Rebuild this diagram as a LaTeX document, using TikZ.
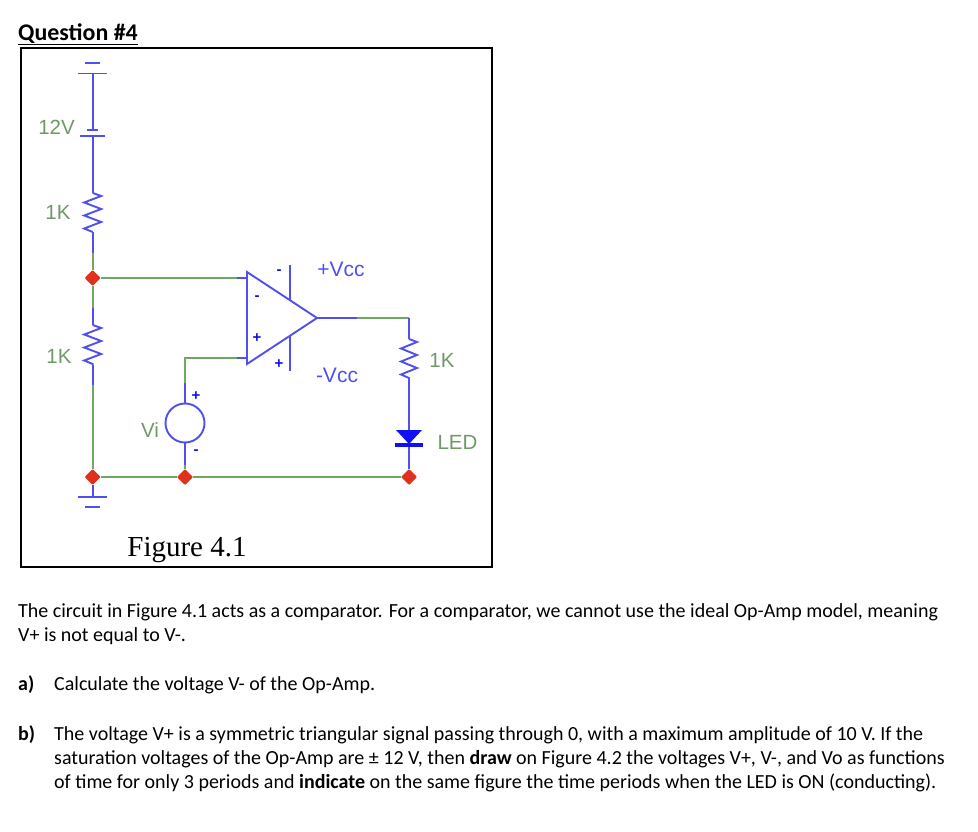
\documentclass[tikz,border=0pt]{standalone}
\usepackage{fontspec}
\setmainfont{Carlito}
\newfontfamily\figfont{Liberation Serif}
\newfontfamily\lblfont{Liberation Sans}
\usetikzlibrary{shapes.geometric}
\definecolor{wblue}{HTML}{5050F0}
\definecolor{wgreen}{HTML}{6FA860}
\definecolor{lgreen}{HTML}{6F9A68}
\definecolor{jred}{HTML}{E0301E}
\definecolor{dblue}{HTML}{1010F0}
\tikzset{
  x=1pt,y=-1pt,
  bw/.style={draw=wblue,line width=1.9pt},
  gw/.style={draw=wgreen,line width=1.9pt},
  junction/.style={diamond,fill=jred,draw=jred,line width=2pt,line join=round,inner sep=0pt,minimum size=14pt},
  glabel/.style={text=lgreen,font=\lblfont\fontsize{20.5}{20.5}\selectfont,inner sep=0pt},
  blabel/.style={text=wblue,font=\lblfont\fontsize{21}{21}\selectfont,inner sep=0pt},
  sign/.style={text=dblue,font=\lblfont\bfseries\fontsize{15}{15}\selectfont,inner sep=0pt},
  body/.style={anchor=base west,inner sep=0pt,font=\fontsize{20}{20}\selectfont},
}
\newcommand{\zig}[3]{% top node, bottom node, x half width, 4 teeth
  \draw[bw,line join=miter] (#1) -- ++(#3,3) -- ++(-2*#3,6.5) -- ++(2*#3,6.5) -- ++(-2*#3,6.5) -- ++(2*#3,6.5) -- ++(-2*#3,6.5) -- ++(#3,3.5) -- (#2);}
\begin{document}
\begin{tikzpicture}
\useasboundingbox (0,0) rectangle (978,832);
\fill[white] (0,0) rectangle (978,832);
% title
\node[anchor=base west,inner sep=0pt,font=\bfseries\fontsize{23.9}{23.9}\selectfont] (title) at (18,41) {Question \#4};
\draw[line width=1.7pt] (18,44.5) -- (138,44.5);
% frame
\node[draw=black,line width=2pt,minimum width=471pt,minimum height=518.5pt,inner sep=0pt,anchor=north west] (frame) at (19.5,47.5) {};
% coordinates
\coordinate (b1a) at (85,63); \coordinate (b1b) at (100,63);
\coordinate (b2a) at (78,73.5); \coordinate (b2b) at (107,73.5); \coordinate (b2c) at (92.7,73.5);
\coordinate (b3a) at (87,130); \coordinate (b3b) at (98,130); \coordinate (b3c) at (92.7,130);
\coordinate (b4a) at (80,136); \coordinate (b4b) at (105,136); \coordinate (b4c) at (92.7,136);
\coordinate (r1t) at (92.7,193); \coordinate (r1b) at (92.7,232); \coordinate (g1) at (92.7,253);
\coordinate (r2g) at (92.7,308); \coordinate (r2t) at (92.7,325); \coordinate (r2b) at (92.7,365); \coordinate (g2) at (92.7,385);
\coordinate (gnd) at (92.7,497); \coordinate (g3a) at (78,497); \coordinate (g3b) at (107,497);
\coordinate (g4a) at (85,507); \coordinate (g4b) at (100,507);
\coordinate (oa1) at (247,272); \coordinate (oa2) at (247,364); \coordinate (oa3) at (317,318);
\coordinate (inm) at (247,278); \coordinate (inmg) at (237,278);
\coordinate (inp) at (247,358); \coordinate (inpg) at (237,358);
\coordinate (cor) at (185,358); \coordinate (vg1) at (185,383);
\coordinate (vg2) at (185,465);
\coordinate (o1) at (357,318); \coordinate (o2) at (409,318);
\coordinate (r3t) at (409,339); \coordinate (r3b) at (409,377);
\coordinate (dt) at (409,430); \coordinate (db) at (409,445);
\coordinate (dta) at (396,430); \coordinate (dtb) at (422,430); \coordinate (dm) at (409,444);
\coordinate (dba) at (395,445); \coordinate (dbb) at (423,445);
\coordinate (vt1) at (290,265); \coordinate (vt2) at (290,301);
\coordinate (vb1) at (290,336); \coordinate (vb2) at (290,371);
\node[junction] (j1) at (92.7,278) {};
\node[junction] (j2) at (92.7,477) {};
\node[junction] (j3) at (185,477) {};
\node[junction] (j4) at (409,477) {};
\node[draw=wblue,line width=1.9pt,circle,minimum size=39pt,inner sep=0pt] (vi) at (185,423) {};
% battery and upper branch
\draw[bw] (b1a) -- (b1b);
\draw[bw] (b2a) -- (b2b);
\draw[bw] (b2c) -- (b3c);
\draw[bw] (b3a) -- (b3b);
\draw[bw] (b4a) -- (b4b);
\draw[bw] (b4c) -- (r1t);
\zig{r1t}{r1b}{8.5}
\draw[bw] (r1b) -- (g1);
\draw[gw] (g1) -- (j1);
\draw[gw] (j1) -- (inmg);
\draw[bw] (inmg) -- (inm);
% lower branch
\draw[gw] (j1) -- (r2g);
\draw[bw] (r2g) -- (r2t);
\zig{r2t}{r2b}{8.5}
\draw[bw] (r2b) -- (g2);
\draw[gw] (g2) -- (j2);
\draw[gw] (j2) -- (j3);
\draw[gw] (j3) -- (j4);
\draw[bw] (j2) -- (gnd);
\draw[bw] (g3a) -- (g3b);
\draw[bw] (g4a) -- (g4b);
% source
\draw[bw] (inp) -- (inpg);
\draw[gw] (inpg) -- (cor) -- (vg1);
\draw[bw] (vg1) -- (vi);
\draw[bw] (vi) -- (vg2);
\draw[gw] (vg2) -- (j3);
% opamp body
\draw[bw,line join=miter] (oa1) -- (oa2) -- (oa3) -- cycle;
\draw[bw] (vt1) -- (vt2);
\draw[bw] (vb1) -- (vb2);
\draw[bw] (oa3) -- (o1);
\draw[gw] (o1) -- (o2);
\draw[bw] (o2) -- (r3t);
\zig{r3t}{r3b}{8}
\draw[bw] (r3b) -- (dt);
\draw[bw] (db) -- (j4);
\fill[dblue] (dta) -- (dtb) -- (dm) -- cycle;
\draw[dblue,line width=3.5pt] (dba) -- (dbb);
% signs
\node[sign] (s1) at (279,272) {-};
\node[sign] (s2) at (257,298) {-};
\node[sign] (s3) at (257,338) {+};
\node[sign] (s4) at (279,364) {+};
\node[sign] (s5) at (196,396) {+};
\node[sign] (s6) at (196,452) {-};
% labels
\node[glabel] (l12) at (56.5,127) {12V};
\node[glabel] (l1k1) at (58,212) {1K};
\node[glabel] (l1k2) at (59,356) {1K};
\node[glabel] (lvi) at (150,430) {Vi};
\node[glabel] (l1k3) at (442,360) {1K};
\node[glabel] (lled) at (457.5,442) {LED};
\node[blabel] (lvp) at (341,269.5) {+Vcc};
\node[blabel] (lvm) at (337,375) {-Vcc};
\node[inner sep=0pt,font=\figfont\fontsize{29}{29}\selectfont] (fig) at (187,550) {Figure 4.1};
% body text
\node[body] (t1) at (18,617.7) {The circuit in Figure 4.1 acts as a comparator. For a comparator, we cannot use the ideal Op-Amp model, meaning};
\node[body] (t2) at (18,641.7) {V+ is not equal to V-.};
\node[body] (t3a) at (18,690.3) {\bfseries a)};
\node[body] (t3) at (54,690.3) {Calculate the voltage V- of the Op-Amp.};
\node[body] (t4a) at (18,740.3) {\bfseries b)};
\node[body] (t4) at (54,740.3) {The voltage V+ is a symmetric triangular signal passing through 0, with a maximum amplitude of 10 V. If the};
\node[body] (t5) at (54,764.3) {saturation voltages of the Op-Amp are ± 12 V, then \textbf{draw} on Figure 4.2 the voltages V+, V-, and Vo as functions};
\node[body] (t6) at (54,788.3) {of time for only 3 periods and \textbf{indicate} on the same figure the time periods when the LED is ON (conducting).};
\end{tikzpicture}
\end{document}
